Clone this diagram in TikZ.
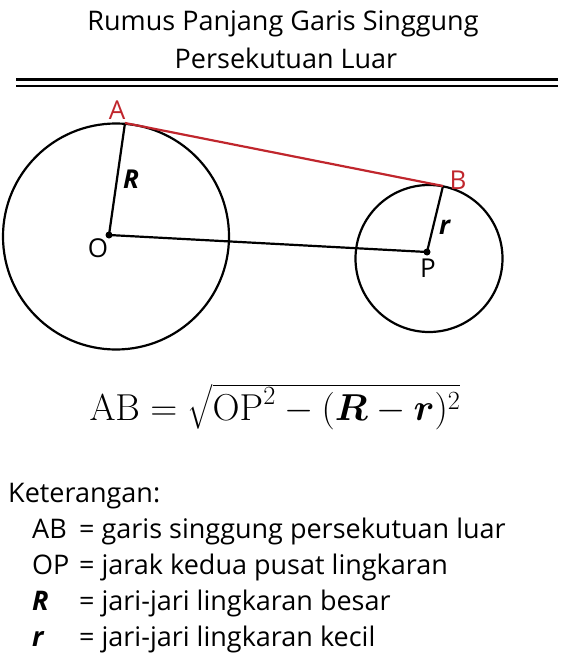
\RequirePackage{fix-cm}
\documentclass[tikz,border=0pt]{standalone}
\usepackage{amsmath,bm}
\usepackage[no-math]{fontspec}
\setmainfont{Open Sans}
\usetikzlibrary{positioning}

\definecolor{tanred}{RGB}{192,38,45}

\begin{document}
\begin{tikzpicture}[x=1pt,y=-1pt]
	\tikzset{
		ln/.style={line width=2.2pt},
		ptlabel/.style={font=\fontsize{26}{26}\selectfont,inner sep=0pt},
		txt/.style={font=\fontsize{27}{32}\selectfont,inner sep=0pt,anchor=base west}
	}
	\useasboundingbox (0,0) rectangle (563,658);

	%% Title and double rule
	\node[txt,anchor=base] (title1) at (283,31) {Rumus Panjang Garis Singgung};
	\node[txt,anchor=base] (title2) at (286,69) {Persekutuan Luar};
	\draw[line width=3pt] (16,79.5) -- (558,79.5);
	\draw[line width=2.2pt] (16,86) -- (558,86);

	%% Circles
	\draw[ln] (116,236.5) circle (113);
	\draw[ln] (429,258.5) circle (73.5);

	\coordinate (O) at (109,235);
	\coordinate (A) at (125,123);
	\coordinate (P) at (427,252);
	\coordinate (B) at (443,186);

	\draw[ln] (O) -- (A);
	\draw[ln] (O) -- (P);
	\draw[ln] (P) -- (B);
	\draw[ln,tanred] (A) -- (B);
	\fill (O) circle (3.5);
	\fill (P) circle (3.5);

	%% Point labels
	\node[ptlabel,tanred] (lblA) at (117,110) {A};
	\node[ptlabel,tanred] (lblB) at (458,180) {B};
	\node[ptlabel] (lblO) at (98,248) {O};
	\node[ptlabel] (lblP) at (428,268) {P};
	\node[ptlabel] (lblR) at (131,179) {\textbf{\textit{R}}};
	\node[ptlabel] (lblr) at (445,227) {\textbf{\textit{r}}};

	%% Formula
	\node[anchor=base,inner sep=0pt,font=\fontsize{37.5}{42}\selectfont] (rumus) at (275,420)
		{$\mathrm{AB} = \sqrt{\mathrm{OP}^2 - (\boldsymbol{R} - \boldsymbol{r})^2}$};

	%% Legend
	\node[txt] (ket) at (8,502) {Keterangan:};
	\foreach \sym/\desc [count=\i] in {AB/garis singgung persekutuan luar,
		OP/jarak kedua pusat lingkaran,
		\textbf{\textit{R}}/jari-jari lingkaran besar,
		\textbf{\textit{r}}/jari-jari lingkaran kecil}{
		\node[txt] (sym\i) at (32,502+36*\i) {\sym};
		\node[txt] (desc\i) at (79,502+36*\i) {= \desc};
	}
\end{tikzpicture}
\end{document}
